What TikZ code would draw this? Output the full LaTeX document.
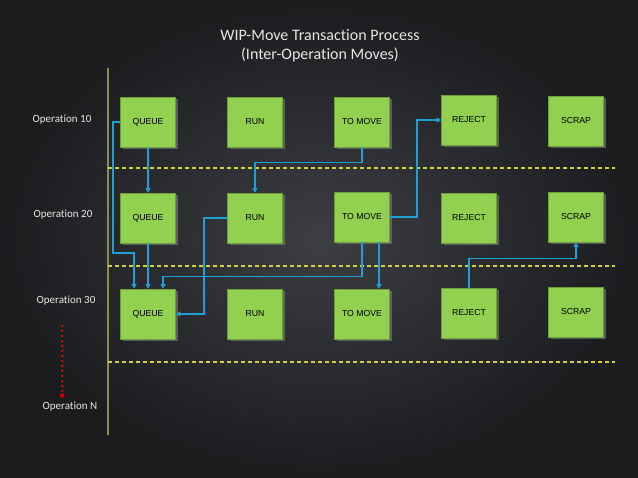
\documentclass[tikz,border=0pt]{standalone}
\usepackage{fontspec}
\setmainfont{Carlito}[Ligatures={NoCommon}]
\newfontfamily\boxfont{Liberation Sans}
\usetikzlibrary{arrows.meta,shadows}

\definecolor{bgin}{HTML}{3C3E42}
\definecolor{bgout}{HTML}{1B1C1E}
\definecolor{boxgreen}{HTML}{92D050}
\definecolor{boxedge}{HTML}{6E9E3A}
\definecolor{flowblue}{HTML}{1E9FD6}
\definecolor{sepyellow}{HTML}{D4D23A}
\definecolor{axisolive}{HTML}{8C8A55}
\definecolor{labelgray}{HTML}{E6E6E6}

\begin{document}
\begin{tikzpicture}[x=1pt,y=-1pt,
    stage/.style={draw=boxedge, line width=0.6pt, fill=boxgreen,
      minimum width=55pt, minimum height=50pt, inner sep=0pt,
      font=\boxfont\fontsize{8.7}{10}\selectfont, text=black,
      drop shadow={shadow xshift=2pt, shadow yshift=-2pt, opacity=0.6}},
    oplabel/.style={text=labelgray, font=\fontsize{11}{13}\selectfont},
    flow/.style={draw=flowblue, line width=1.5pt, -{Triangle[length=4.5pt,width=5pt]}},
    sep/.style={draw=sepyellow, line width=1.3pt, dash pattern=on 4pt off 3pt}]
    % background
    \shade [inner color=bgin, outer color=bgout] (0,0) rectangle (638,478);
    \useasboundingbox (0,0) rectangle (638,478);

    \node [text=labelgray, align=center, font=\fontsize{16}{19}\selectfont]
      (title) at (320,46) {WIP-Move Transaction Process\\(Inter-Operation Moves)};

    % operation axis and separators
    \draw [axisolive, line width=1.3pt] (108,68) -- (108,435);
    \draw [sep] (108,168) -- (615,168);
    \draw [sep] (108,266) -- (615,266);
    \draw [sep] (108,362) -- (615,362);

    \node [oplabel] (op10) at (62,120) {Operation 10};
    \node [oplabel] (op20) at (63,215) {Operation 20};
    \node [oplabel] (op30) at (66,301) {Operation 30};
    \node [oplabel] (opN)  at (70,407) {Operation N};
    \coordinate (opdown) at (62,325);
    \draw [red!85!black, line width=1.3pt, dash pattern=on 2.5pt off 2.5pt,
      -{Triangle[length=5pt,width=5.5pt]}] (opdown) -- (opN.north -| opdown);

    % operation 10
    \node [stage] (q10) at (148,122) {QUEUE};
    \node [stage] (r10) at (255,122) {RUN};
    \node [stage] (m10) at (362,122) {TO MOVE};
    \node [stage] (j10) at (469,120) {REJECT};
    \node [stage] (s10) at (576,121) {SCRAP};
    % operation 20
    \node [stage] (q20) at (148,218) {QUEUE};
    \node [stage] (r20) at (255,218) {RUN};
    \node [stage] (m20) at (362,217) {TO MOVE};
    \node [stage] (j20) at (469,218) {REJECT};
    \node [stage] (s20) at (576,217) {SCRAP};
    % operation 30
    \node [stage] (q30) at (148,314) {QUEUE};
    \node [stage] (r30) at (255,314) {RUN};
    \node [stage] (m30) at (362,314) {TO MOVE};
    \node [stage] (j30) at (469,313) {REJECT};
    \node [stage] (s30) at (576,312) {SCRAP};

    % moves
    \draw [flow] (q10.west) -| (113,253) -| ([xshift=-14pt]q30.north);
    \draw [flow] (q10) -- (q20);
    \draw [flow] (q20) -- (q30);
    \draw [flow] (m10.south) -- ++(0,15) -| (r20.north);
    \draw [flow] (m20.east) -- ++(27,0) |- (j10.west);
    \draw [flow] (r20.west) -- ++(-23,0) |- (q30.east);
    \draw [flow] (m20.south) -- ++(0,34) -| ([xshift=15pt]q30.north);
    \draw [flow] ([xshift=17pt]m20.south) -- ([xshift=17pt]m30.north);
    \draw [flow] (j30.north) -- ++(0,-29) -| (s20.south);
\end{tikzpicture}
\end{document}
